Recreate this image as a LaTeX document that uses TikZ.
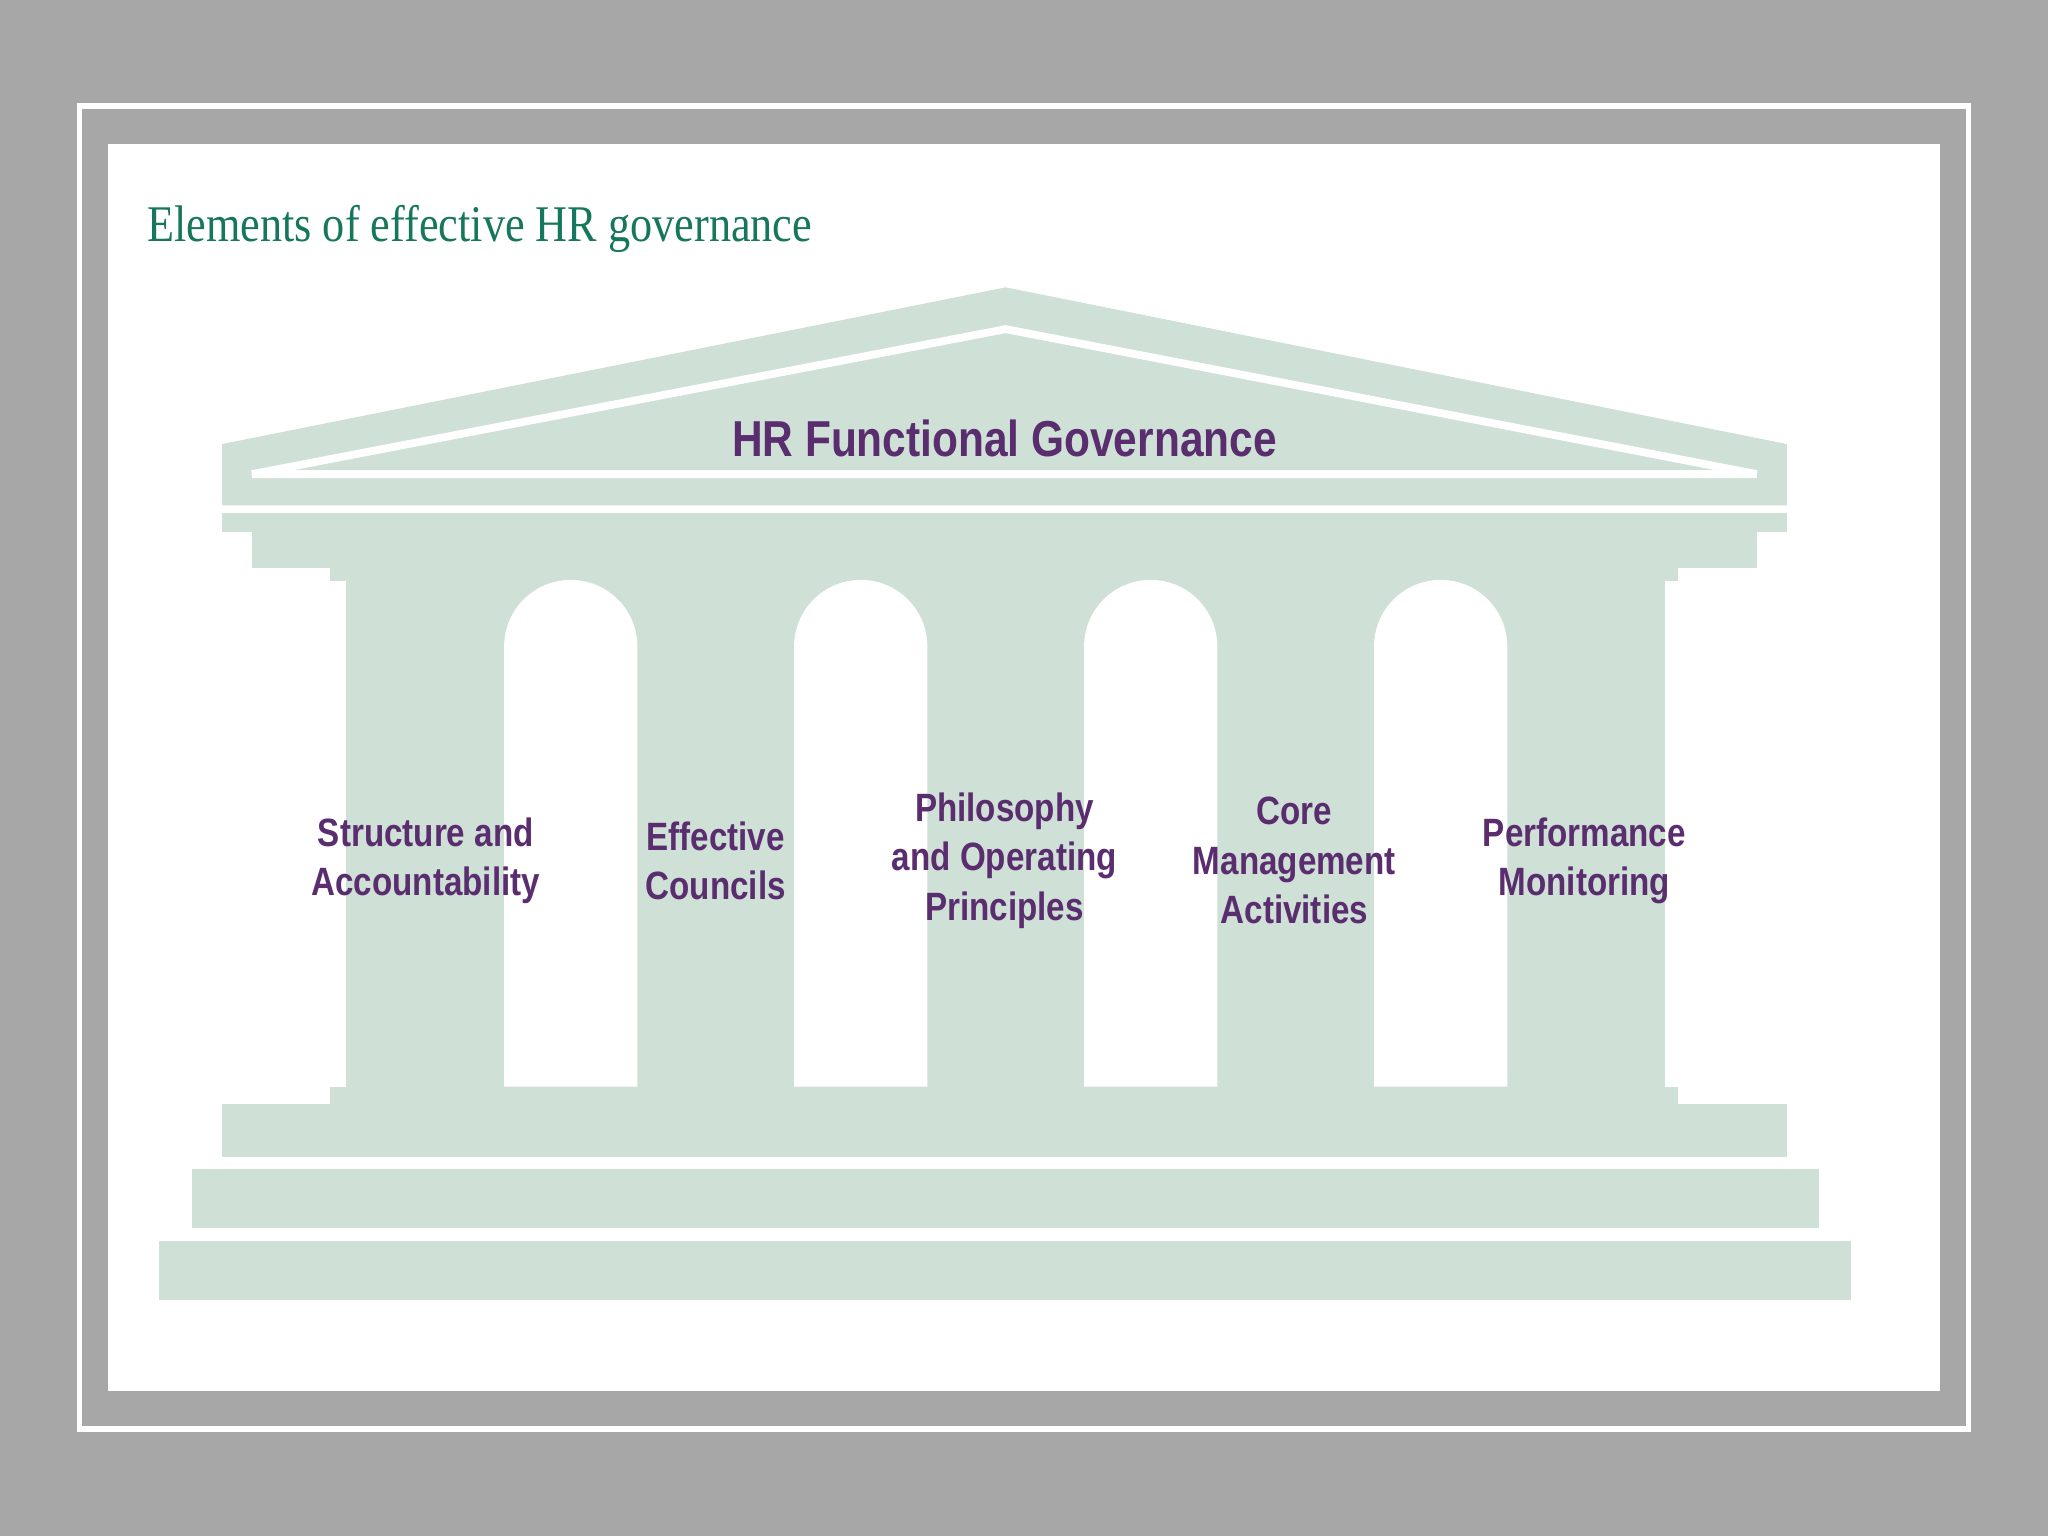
\documentclass[tikz,border=0pt]{standalone}
\usepackage{fontspec}
\newfontfamily\cond[FakeStretch=0.84]{Liberation Sans}
\newfontfamily\condserif[FakeStretch=0.86]{Liberation Serif}
\definecolor{bggray}{HTML}{A7A7A7}
\definecolor{temple}{HTML}{CFE0D6}
\definecolor{titlegreen}{HTML}{16775C}
\definecolor{labelpurple}{HTML}{5A2D6E}
\tikzset{
  lbl/.style={font=\cond\bfseries\fontsize{8.6}{10.8}\selectfont, text=labelpurple, align=center},
  arch/.style={fill=white, draw=none}
}
\begin{document}
\begin{tikzpicture}[x=0.01cm,y=-0.01cm]
\fill[bggray] (0,0) rectangle (1568,1176);
\draw[white,line width=1.2pt] (61,81) rectangle (1507,1094);
\fill[white] (83,110) rectangle (1485,1065);
\node[anchor=base west, text=titlegreen, font=\condserif\fontsize{11.2}{13}\selectfont, inner sep=0] (title) at (112,185) {Elements of effective HR governance};
% pediment
\fill[temple] (170,340) -- (770,220) -- (1368,340) -- (1368,387) -- (170,387) -- cycle;
\draw[white,line width=1.7pt,line join=miter] (193,363) -- (770,252) -- (1345,363) -- cycle;
% entablature
\fill[temple] (170,393) rectangle (1368,407);
\fill[temple] (193,407) rectangle (1345,435);
\fill[temple] (253,435) rectangle (1285,445);
\fill[temple] (265,445) rectangle (1275,832);
\fill[temple] (253,832) rectangle (1285,845);
\fill[temple] (170,845) rectangle (1368,886);
\fill[temple] (147,895) rectangle (1393,940);
\fill[temple] (122,950) rectangle (1417,995);
% arches
\foreach \x in {386,608,830,1052}{
  \fill[arch] (\x,832) -- (\x,495) arc[start angle=180,end angle=0,x radius=51,y radius=-51] -- (\x+102,832) -- cycle;
}
\node[font=\cond\bfseries\fontsize{11}{13}\selectfont, text=labelpurple] (gov) at (769,336) {HR Functional Governance};
\node[lbl] (s1) at (326,659) {Structure and\\Accountability};
\node[lbl] (s2) at (548,659) {Effective\\Councils};
\node[lbl] (s3) at (769,659) {Philosophy\\and Operating\\Principles};
\node[lbl] (s4) at (991,659) {Core\\Management\\Activities};
\node[lbl] (s5) at (1213,659) {Performance\\Monitoring};
\end{tikzpicture}
\end{document}
